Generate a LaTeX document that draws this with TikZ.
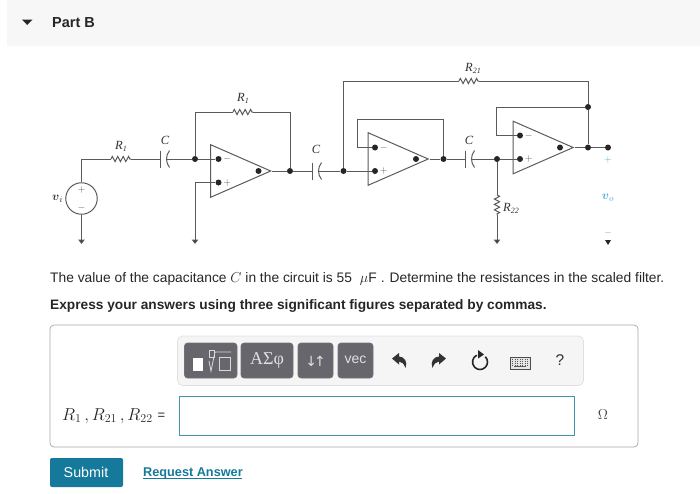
\documentclass[tikz,border=0pt]{standalone}
\usepackage{amsmath}
\usepackage{fontspec}
\setmainfont{Liberation Sans}
\newfontfamily\serifsym{Liberation Serif}
\newfontfamily\dejavu{DejaVu Sans}
\usetikzlibrary{arrows.meta,decorations.pathmorphing,positioning,shapes.geometric}
\definecolor{wirecol}{HTML}{5A5A5A}
\definecolor{dotcol}{HTML}{262626}
\definecolor{bluecol}{HTML}{4FAEDC}
\definecolor{tealcol}{HTML}{14799A}
\definecolor{btncol}{HTML}{66666C}
\newcommand{\partlab}[2]{{\serifsym\itshape #1\raisebox{-2pt}{\fontsize{8}{8}\selectfont #2}}}
\tikzset{
   wire/.style={draw=wirecol,line width=1pt},
   gnd/.style={wire,-{Triangle[width=6.5pt,length=4.5pt,fill=dotcol]}},
   res/.style={wire,decorate,decoration={zigzag,segment length=5.4pt,amplitude=2.6pt}},
   dotnode/.style={circle,fill=dotcol,inner sep=0pt,minimum size=6pt},
   ampnode/.style={isosceles triangle,isosceles triangle stretches,draw=wirecol,line width=1pt,
      minimum height=60pt,minimum width=52.5pt,inner sep=0pt,anchor=apex},
   clab/.style={inner sep=0pt,text=black!80,font=\fontsize{12.5}{12.5}\selectfont},
   sign/.style={inner sep=0pt,text=wirecol,font=\fontsize{10}{10}\selectfont},
   btn/.style={draw=black!55,fill=btncol,rounded corners=3pt,line width=.6pt},
   uitext/.style={inner sep=0pt,anchor=base west,text=black!85},
   capa/.pic={
      \draw[wire] (0,-8.5) -- (0,8.5);
      \draw[wire] (9.5,-8.5) .. controls (5.5,-3) and (5.5,3) .. (9.5,8.5);
      \coordinate (-p) at (0,0);
      \coordinate (-a) at (6.5,0);
   },
   undoicon/.pic={
      \fill[black!80] (-7,-1.5) -- (0,-7) -- (0,-3.5) .. controls (5.5,-3.5) and (9,2) .. (6.5,8)
         .. controls (5,4) and (3,1.5) .. (0,1.5) -- (0,4.5) -- cycle;
   },
}
\begin{document}
\begin{tikzpicture}[x=1pt,y=-1pt]
   \path[use as bounding box] (0,0) rectangle (700,493);
   \fill[black!3] (7,0) rectangle (700,46);
   \fill[black!85] (22,19.5) -- (32.5,19.5) -- (27.2,25) -- cycle;
   \node[uitext,font=\fontsize{14.5}{14.5}\selectfont\bfseries] (part_b) at (52,27) {Part B};

   % first stage
   \node[circle,draw=wirecol,line width=1pt,minimum size=31.5pt,inner sep=0pt] (v_s) at (81.5,198.5) {};
   \node[sign] (v_p) at (81.5,190) {$+$};
   \node[sign] (v_m) at (81.5,207.5) {$-$};
   \node[clab,left=2pt of v_s] (v_i) {$\boldsymbol{v}_i$};
   \coordinate (r_1a) at (111,159);
   \coordinate (r_1b) at (131,159);
   \pic (c_1) at (160,159) {capa};
   \node[dotnode] (j_1) at (195,159) {};
   \node[ampnode] (amp_1) at (272,171) {};
   \node[dotnode] (a_1m) at (218.5,159) {};
   \node[dotnode] (a_1p) at (218.5,182.5) {};
   \node[dotnode] (a_1o) at (258.5,171) {};
   \node[sign,right=1.5pt of a_1m] (s_1m) {$-$};
   \node[sign,right=1.5pt of a_1p] (s_1p) {$+$};
   \node[dotnode] (j_2) at (290,171) {};
   \coordinate (r_2a) at (233,112);
   \coordinate (r_2b) at (253,112);
   \coordinate (g_1) at (81.5,244);
   \coordinate (g_2) at (195,244);
   \node[clab] (l_r1) at (121,146) {\partlab{R}{1}};
   \node[clab] (l_c1) at (165,141) {\partlab{C}{}};
   \node[clab] (l_r2) at (243,98) {\partlab{R}{1}};
   \draw[wire] (v_s) |- (r_1a);
   \draw[res] (r_1a) -- (r_1b);
   \draw[wire] (r_1b) -- (c_1-p);
   \draw[wire] (c_1-a) -- (j_1) -- (a_1m);
   \draw[wire] (j_1) |- (r_2a);
   \draw[res] (r_2a) -- (r_2b);
   \draw[wire] (r_2b) -| (j_2);
   \draw[gnd] (v_s) -- (g_1);
   \draw[gnd] (a_1p) -| (g_2);
   \draw[wire] (amp_1.apex) -- (j_2);

   % second stage
   \pic (c_2) at (312,171) {capa};
   \node[clab] (l_c2) at (316,150) {\partlab{C}{}};
   \node[dotnode] (j_3) at (343.5,171) {};
   \node[ampnode] (amp_2) at (429.5,159) {};
   \node[dotnode] (a_2m) at (375,147.5) {};
   \node[dotnode] (a_2p) at (375,171) {};
   \node[dotnode] (a_2o) at (416,159) {};
   \node[sign,right=1.5pt of a_2m] (s_2m) {$-$};
   \node[sign,right=1.5pt of a_2p] (s_2p) {$+$};
   \node[dotnode] (j_4) at (443.5,159) {};
   \coordinate (f_2a) at (357,119);
   \draw[wire] (j_2) -- (c_2-p);
   \draw[wire] (c_2-a) -- (j_3) -- (a_2p);
   \draw[wire] (a_2m) -| (f_2a) -| (j_4);
   \draw[wire] (amp_2.apex) -- (j_4);

   % third stage
   \pic (c_3) at (465,159) {capa};
   \node[clab] (l_c3) at (469,141) {\partlab{C}{}};
   \node[dotnode] (j_5) at (497,159) {};
   \node[ampnode] (amp_3) at (574.5,147.5) {};
   \node[dotnode] (a_3m) at (520,135.5) {};
   \node[dotnode] (a_3p) at (520,159) {};
   \node[dotnode] (a_3o) at (560,147.5) {};
   \node[sign,right=1.5pt of a_3m] (s_3m) {$-$};
   \node[sign,right=1.5pt of a_3p] (s_3p) {$+$};
   \node[dotnode] (j_6) at (588,147.5) {};
   \node[dotnode] (j_7) at (588,107) {};
   \node[dotnode] (out_p) at (608,147.5) {};
   \coordinate (r_3a) at (459,81);
   \coordinate (r_3b) at (479,81);
   \coordinate (r_4a) at (497,195);
   \coordinate (r_4b) at (497,215);
   \coordinate (g_3) at (497,244);
   \coordinate (f_3a) at (496,107);
   \node[clab] (l_r3) at (473,68.5) {\partlab{R}{21}};
   \node[clab,anchor=west] (l_r4) at (503,208) {\partlab{R}{22}};
   \draw[wire] (j_3) |- (r_3a);
   \draw[res] (r_3a) -- (r_3b);
   \draw[wire] (r_3b) -| (j_7) -- (j_6);
   \draw[wire] (j_4) -- (c_3-p);
   \draw[wire] (c_3-a) -- (j_5) -- (a_3p);
   \draw[wire] (j_5) -- (r_4a);
   \draw[res] (r_4a) -- (r_4b);
   \draw[gnd] (r_4b) -- (g_3);
   \draw[wire] (a_3m) -| (f_3a) -- (j_7);
   \draw[wire] (amp_3.apex) -- (j_6) -- (out_p);

   % output
   \node[sign,text=bluecol] (o_p) at (608,160) {$+$};
   \node[clab,text=bluecol] (o_v) at (608,198) {$\boldsymbol{v}_o$};
   \node[sign,text=bluecol] (o_m) at (608,233) {$-$};
   \fill[dotcol] (605,240) -- (611,240) -- (608,245) -- cycle;

   % question text
   \node[uitext,font=\fontsize{13.8}{13.8}\selectfont] (q_1) at (50,282)
      {The value of the capacitance $C$ in the circuit is 55 $\;\mu\mathrm{F}\;$. Determine the resistances in the scaled filter.};
   \node[uitext,font=\fontsize{13.7}{13.7}\selectfont\bfseries] (q_2) at (50,309)
      {Express your answers using three significant figures separated by commas.};

   % answer box
   \draw[draw=black!35,rounded corners=4pt,line width=.7pt] (50,325) rectangle (638,447);
   \draw[draw=black!12,fill=black!4,rounded corners=5pt,line width=.7pt] (177.5,336) rectangle (583.5,385.5);
   \draw[btn] (184.5,343) rectangle (237,378);
   \draw[btn] (241,343) rectangle (293,378);
   \draw[btn] (298,343) rectangle (333,378);
   \draw[btn] (338,343) rectangle (373,378);
   \fill[white] (192.5,358) rectangle (203,371);
   \draw[black!15,line width=.7pt] (209,350) rectangle (214,357);
   \draw[black!15,line width=.8pt] (209,361) -- (211,371) -- (215,352) -- (231,352);
   \draw[black!15,line width=.7pt] (219,357) rectangle (230,370);
   \node[inner sep=0pt,text=black!12,font=\serifsym\fontsize{18}{18}\selectfont] (b_greek) at (267,360.5) {ΑΣφ};
   \node[inner sep=0pt,text=black!12,font=\dejavu\fontsize{14}{14}\selectfont] (b_arrows) at (315.5,361) {↓\kern-3pt↑};
   \node[inner sep=0pt,text=black!12,font=\fontsize{14}{14}\selectfont] (b_vec) at (355.5,359.5) {vec};
   \pic at (399,360) {undoicon};
   \pic[xscale=-1] at (439,360) {undoicon};
   \draw[black!85,line width=1.6pt] (485.3,356.7) arc[start angle=45,end angle=-245,radius=7.5pt];
   \fill[black!85] (478,350) -- (484,354.5) -- (478,358.5) -- cycle;
   \draw[black!70,fill=black!10,line width=.8pt] (510.5,357.5) rectangle (530,369);
   \foreach \kx in {512.5,515,...,528}
      \draw[black!65,line width=.6pt,dash pattern=on 1pt off .9pt] (\kx,359) -- (\kx,365);
   \draw[black!65,line width=.8pt] (514,366.8) -- (526,366.8);
   \node[inner sep=0pt,text=black!80,font=\fontsize{15.5}{15.5}\selectfont] (b_help) at (560,360) {?};
   \node[uitext,font=\fontsize{16.5}{16.5}\selectfont] (a_lab) at (62,420) {$R_1\,,R_{21}\,,R_{22}$};
   \node[uitext,font=\fontsize{13}{13}\selectfont] (a_eq) at (157.5,419.5) {=};
   \draw[draw=tealcol!80,line width=1pt] (179,396) rectangle (574,435);
   \node[inner sep=0pt,text=black!75,font=\fontsize{14}{14}\selectfont] (a_unit) at (603,415) {$\Omega$};

   % buttons below
   \fill[tealcol,rounded corners=2pt] (50,458) rectangle (123,487);
   \node[inner sep=0pt,text=white,font=\fontsize{14.3}{14.3}\selectfont] (b_sub) at (86,472.5) {Submit};
   \node[uitext,text=tealcol,font=\fontsize{12.7}{12.7}\selectfont\bfseries] (b_req) at (143,476) {Request Answer};
   \draw[tealcol,line width=.8pt] (143,478.5) -- (242,478.5);
\end{tikzpicture}
\end{document}
